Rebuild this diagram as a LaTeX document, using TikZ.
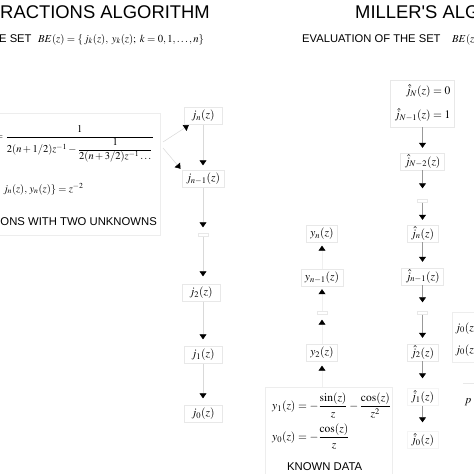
\documentclass[tikz,border=0pt]{standalone}
\usepackage{amsmath}
\usepackage{mathptmx}
\usepackage[no-math]{fontspec}
\newfontfamily\arialf{Liberation Sans}
\usetikzlibrary{arrows.meta,calc}
\newcommand\mfs{\fontsize{11.5}{13}\selectfont}
\newcommand\ffs{\fontsize{10.5}{12}\selectfont}
\newcommand\sfs{\fontsize{10.7}{12}\selectfont}
\begin{document}
\begin{tikzpicture}[x=1pt,y=-1pt,
  cell/.style={draw=black!9, line width=0.4pt, inner xsep=4pt, inner ysep=2pt, minimum height=17pt, font=\mfs},
  lcell/.style={cell, minimum width=38pt},
  dotbox/.style={draw=black!9, line width=0.4pt, minimum width=10pt, minimum height=3pt, inner sep=0pt},
  faint/.style={draw=black!7, line width=0.4pt, inner sep=0pt},
  lbl/.style={inner sep=0pt},
  arr/.style={draw=black!15, line width=0.5pt, -{Triangle[width=7pt,length=5pt,color=black]}, shorten >=6pt},
  arrR/.style={arr, draw=black!40},
  arrU/.style={arr, draw=black!6},
  title/.style={lbl, font=\arialf\fontsize{18.4}{20}\selectfont},
  small/.style={lbl, font=\arialf\fontsize{11.2}{13}\selectfont},
  mid/.style={lbl, font=\arialf\fontsize{11.3}{13}\selectfont}]
\useasboundingbox (0,0) rectangle (474,474);
\clip (0,0) rectangle (474,474);
\fill[white] (0,0) rectangle (474,474);

% ---------- titles ----------
\node[title, anchor=base east] (t1) at (210,18) {RACTIONS ALGORITHM};
\node[small, anchor=base west] (t2) at (-1,42) {E SET};
\node[lbl, anchor=base west, font=\sfs] (t3) at (38,42) {$BE(z)=\{\,j_k(z),\;y_k(z);\;k=0,1,\ldots,n\}$};
\node[title, anchor=base west] (t6) at (355,18) {MILLER'S ALGORITHM};
\node[small, anchor=base west] (t7) at (302,42) {EVALUATION OF THE SET};
\node[lbl, anchor=base west, font=\sfs] (t8) at (452,42) {$BE(z)=\{\,j_k(z),\;y_k(z);\;k=0,1,\ldots,n\}$};

% ---------- left box ----------
\node[faint, anchor=north east, minimum width=175pt, minimum height=122pt] (lbox) at (160,113) {};
\node[lbl, anchor=base east, font=\ffs] (frac) at (154,139.5) {$\displaystyle =\frac{1}{2(n+1/2)z^{-1}-\dfrac{1}{2(n+3/2)z^{-1}\ldots}}$};
\node[lbl, anchor=base west, font=\ffs] (wr) at (3,192) {$j_n(z),\,y_n(z)\}=z^{-2}$};
\node[mid, anchor=base east] (t5) at (157,225) {ONS WITH TWO UNKNOWNS};
\coordinate (o1) at (163,142);
\coordinate (o2) at (163,148);

% ---------- left chain ----------
\node[lcell] (jn) at (203,116) {$j_n(z)$};
\node[lcell] (jn1) at (203,179) {$j_{n-1}(z)$};
\node[dotbox] (d1) at (203,235) {};
\node[lcell] (j2) at (201,293) {$j_2(z)$};
\node[lcell] (j1) at (203,355) {$j_1(z)$};
\node[lcell] (j0) at (203,414) {$j_0(z)$};

\draw[arr, shorten >=1pt] (o1) -- (jn);
\draw[arr, shorten >=2pt] (o2) -- (jn1.north west);
\draw[arr, shorten >=5pt] (jn) -- (jn1);
\draw[arr] (jn1) -- (d1);
\draw[arr, shorten >=8pt] (d1) -- (j2.north -| d1);
\draw[arr, shorten >=7pt] (j2.south -| j1) -- (j1);
\draw[arr, shorten >=7pt] (j1) -- (j0);

% ---------- Miller column ----------
\node[cell, minimum width=61pt, minimum height=47pt] (jhN) at (422.5,103.5) {$\begin{aligned}\hat{j}_N(z)&=0\\[6pt]\hat{j}_{N-1}(z)&=1\end{aligned}$};
\node[cell] (jhN2) at (422.5,161.5) {$\hat{j}_{N-2}(z)$};
\node[dotbox] (d2) at (422.5,201) {};
\node[cell] (jhn) at (422.5,233.5) {$\hat{j}_n(z)$};
\node[cell] (jhn1) at (422.5,276.5) {$\hat{j}_{n-1}(z)$};
\node[dotbox] (d3) at (422.5,313) {};
\node[cell] (jh2) at (422.5,352.5) {$\hat{j}_2(z)$};
\node[cell, draw=black!4] (jh1) at (422.5,397) {$\hat{j}_1(z)$};
\node[cell, draw=black!4] (jh0) at (422.5,440) {$\hat{j}_0(z)$};

\draw[arrR, shorten >=5pt] (jhN) -- (jhN2);
\draw[arrR, shorten >=11pt] (jhN2) -- (d2);
\draw[arrR, shorten >=5pt] (d2) -- (jhn);
\draw[arrR] (jhn) -- (jhn1);
\draw[arrR, shorten >=9pt] (jhn1) -- (d3);
\draw[arrR] (d3) -- (jh2);
\draw[arrR, shorten >=10pt] (jh2) -- (jh1);
\draw[arrR, shorten >=9pt] (jh1) -- (jh0);

% ---------- y column ----------
\node[cell] (yn) at (322,234) {$y_n(z)$};
\node[cell] (yn1) at (322,277.5) {$y_{n-1}(z)$};
\node[dotbox] (d4) at (322,313) {};
\node[cell] (y2) at (322,353) {$y_2(z)$};
\node[faint, anchor=north west, minimum width=127pt, minimum height=100pt] (kd) at (265,387) {};
\coordinate (kdtop) at (322,387);
\node[lbl, anchor=base west, font=\mfs] (y1eq) at (272,409.5) {$\displaystyle y_1(z)=-\frac{\sin(z)}{z}-\frac{\cos(z)}{z^2}$};
\node[lbl, anchor=base west, font=\mfs] (y0eq) at (272,440.5) {$\displaystyle y_0(z)=-\frac{\cos(z)}{z}$};
\node[mid, anchor=base west] (kdl) at (287,470) {KNOWN DATA};

\draw[arrU, shorten >=4pt] (kdtop) -- (y2);
\draw[arrU, shorten >=5pt] (y2) -- (d4);
\draw[arrU, shorten >=3pt] (d4) -- (yn1);
\draw[arrU, shorten >=3pt] (yn1) -- (yn);

% ---------- right edge ----------
\node[faint, anchor=north west, minimum width=40pt, minimum height=50pt] (rb) at (452,312) {};
\node[lbl, anchor=base west, font=\mfs] (r1) at (455,331) {$j_0(z)$};
\node[lbl, anchor=base west, font=\mfs] (r2) at (455,353) {$j_0(z)$};
\node[lbl, font=\mfs] (p) at (468,402) {$p$};
\draw[black!9, line width=0.4pt] (463,383) -- (480,383);
\end{tikzpicture}
\end{document}
